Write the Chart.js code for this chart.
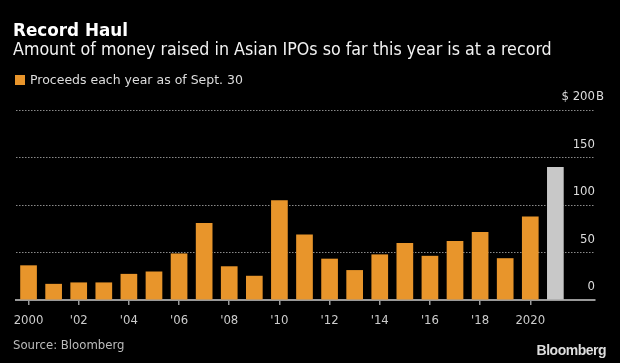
<!DOCTYPE html>
<html>
<head>
<meta charset="utf-8">
<script src="https://cdn.jsdelivr.net/npm/chart.js@4/dist/chart.umd.min.js"></script>
<style>
  html, body { margin: 0; padding: 0; background: #000; }
  #wrap { position: relative; width: 620px; height: 363px; overflow: hidden; font-family: "DejaVu Sans Condensed", "DejaVu Sans", sans-serif; }
  #chart { position: absolute; left: 0; top: 0; }
  .txt { position: absolute; white-space: nowrap; }
  #title { left: 13px; top: 22px; font: bold 16.8px/17px "DejaVu Sans", sans-serif; color: #fff; }
  #subtitle { left: 13px; top: 41px; font-size: 17.7px; line-height: 17px; color: #f2f2f2; }
  #legend { left: 15px; top: 73px; font: 12.5px/14px "DejaVu Sans", sans-serif; color: #ddd; }
  #legend .sw { display: inline-block; width: 10px; height: 10px; background: #e8952b; margin-right: 5px; vertical-align: -1px; }
  #source { left: 13px; top: 338px; font-size: 13px; line-height: 14px; color: #bbb; }
  #brand { right: 14px; top: 343px; font: bold 14px/15px "Liberation Sans", sans-serif; letter-spacing: -0.5px; color: #ddd; }
</style>
</head>
<body>
<div id="wrap">
  <canvas id="chart" width="620" height="363"></canvas>
  <div class="txt" id="title">Record Haul</div>
  <div class="txt" id="subtitle">Amount of money raised in Asian IPOs so far this year is at a record</div>
  <div class="txt" id="legend"><span class="sw"></span>Proceeds each year as of Sept. 30</div>
  <div class="txt" id="source">Source: Bloomberg</div>
  <div class="txt" id="brand">Bloomberg</div>
</div>
<script>
// proceeds in $B, 2000 .. 2020 (as of Sept. 30)
const proceeds = [36.5, 17, 18.5, 18.5, 27.5, 30, 49, 81, 35.5, 25.5, 105, 69, 43.5, 31.5, 48, 60, 46.5, 62, 71.5, 44, 88];
// the grey bar after 2020
const greyValue = 140;

const xTickLabels = ['2000', "'02", "'04", "'06", "'08", "'10", "'12", "'14", "'16", "'18", '2020'];
const yTicks = [0, 50, 100, 150, 200];

const orange = '#e8952b';
const grey = '#c8c8c8';
const tickFont = { family: '"DejaVu Sans Condensed", "DejaVu Sans", sans-serif', size: 13 };

const unitPlugin = {
  id: 'unit',
  afterDraw(chart) {
    const y = chart.scales.y;
    const ctx = chart.ctx;
    ctx.save();
    ctx.font = '13px "DejaVu Sans Condensed", "DejaVu Sans", sans-serif';
    ctx.fillStyle = '#ddd';
    ctx.textAlign = 'left';
    ctx.textBaseline = 'middle';
    ctx.fillText('B', chart.chartArea.right + 1, y.getPixelForValue(200) - 13);
    ctx.restore();
  }
};

const ctx = document.getElementById('chart').getContext('2d');
const chart = new Chart(ctx, {
  type: 'bar',
  data: {
    datasets: [
      {
        label: 'Proceeds each year as of Sept. 30',
        data: proceeds.map((v, i) => ({ x: i, y: v })),
        backgroundColor: orange,
        grouped: false,
        categoryPercentage: 1,
        barPercentage: 0.665,
      },
      {
        label: 'grey',
        data: [{ x: proceeds.length, y: greyValue }],
        backgroundColor: grey,
        grouped: false,
        categoryPercentage: 1,
        barPercentage: 0.665,
      },
    ]
  },
  options: {
    responsive: false,
    animation: false,
    layout: { padding: { top: 110, left: 16, right: 25, bottom: 0 } },
    plugins: {
      legend: { display: false },
      tooltip: { enabled: false },
    },
    scales: {
      x: {
        type: 'linear',
        offset: false,
        min: -0.5,
        max: 22.58,
        afterBuildTicks: (s) => { s.ticks = xTickLabels.map((_, i) => ({ value: i * 2 })); },
        afterFit: (s) => { s.height = 63; },
        grid: { offset: false, drawOnChartArea: false, drawTicks: true, tickLength: 5, color: '#999', lineWidth: 1.5 },
        border: { display: true, color: '#999', width: 2 },
        ticks: {
          autoSkip: false,
          maxRotation: 0,
          padding: 8,
          color: '#ccc',
          font: tickFont,
          callback: (value, index) => xTickLabels[index],
        },
      },
      y: {
        position: 'right',
        min: 0,
        max: 200,
        afterBuildTicks: (s) => { s.ticks = yTicks.map(v => ({ value: v })); },
        afterFit: (s) => { s.width = 0; },
        grid: {
          drawTicks: false,
          tickLength: 0,
          color: (c) => (c.tick && c.tick.value === 0 ? 'rgba(0,0,0,0)' : '#8a8a8a'),
          lineWidth: 1,
        },
        border: { display: false, dash: [1.5, 1.5] },
        ticks: {
          mirror: true,
          padding: 0,
          labelOffset: -13,
          color: '#ddd',
          font: tickFont,
          callback: (v) => (v === 200 ? '$ 200' : v),
        },
      },
    },
  },
  plugins: [unitPlugin],
});
</script>
</body>
</html>
